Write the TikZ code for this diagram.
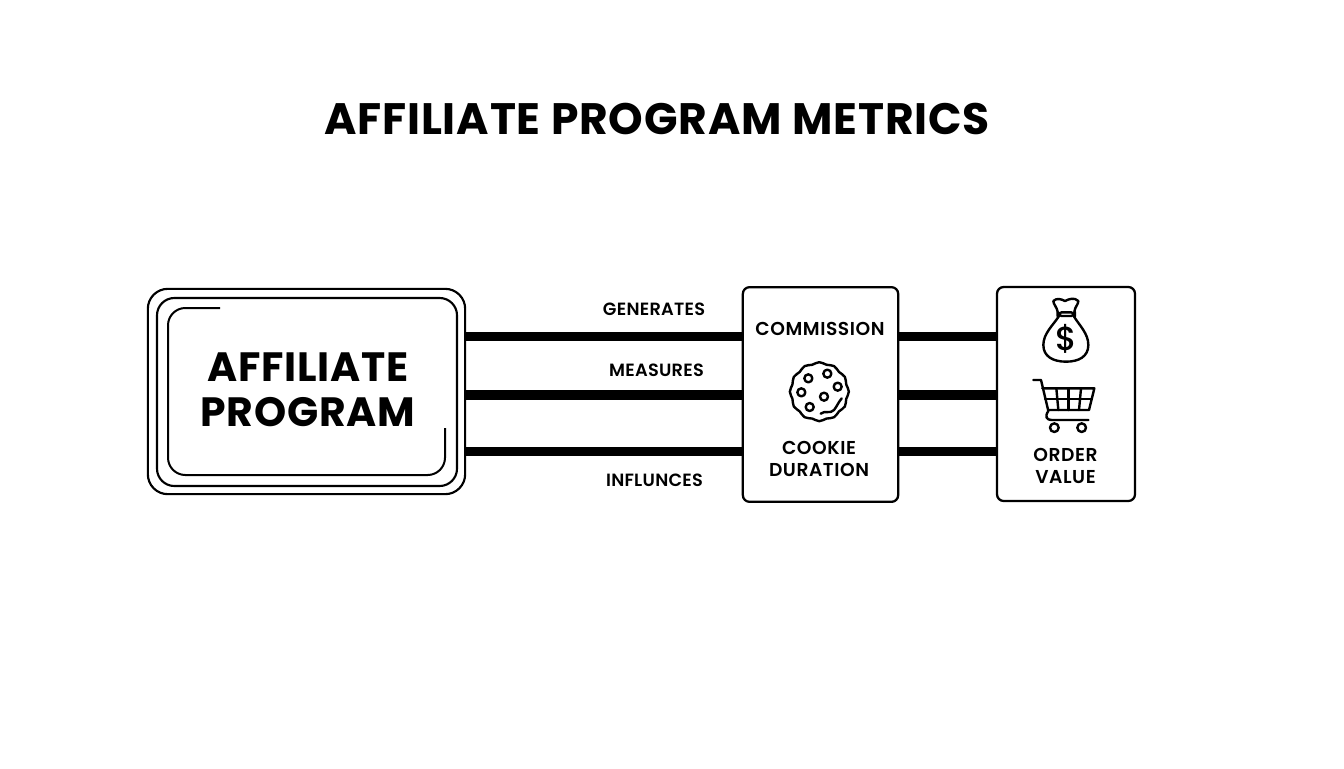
\documentclass[tikz,border=0pt]{standalone}
\usepackage{fontspec}
\setmainfont{Poppins}[UprightFont=* Medium,BoldFont=* Bold]
\newfontfamily\semib{Poppins}[UprightFont=* SemiBold,LetterSpace=3]
\newfontfamily\medsp{Poppins}[UprightFont=* SemiBold,LetterSpace=1.5]
\newfontfamily\boldsp{Poppins}[UprightFont=* Bold,LetterSpace=2]
\tikzset{
  cardbox/.style={draw=black,line width=1.7pt,rounded corners=5pt,fill=white,inner sep=0pt},
  wire/.style={line width=7pt,black,line cap=butt},
  linklabel/.style={font=\medsp\fontsize{13.3}{15}\selectfont,inner sep=0pt,anchor=center},
  cardlabel/.style={font=\semib\fontsize{14}{16.5}\selectfont,align=center,inner sep=0pt},
  icon/.style={line width=1.8pt,line cap=round,line join=round},
}
\begin{document}
\begin{tikzpicture}[x=0.75pt,y=-0.75pt]
\useasboundingbox[fill=white] (0,0) rectangle (1344,768);
\node[font=\boldsp\fontsize{33}{38}\selectfont,inner sep=0pt] (title) at (657,118.5) {AFFILIATE PROGRAM METRICS};
% anchor rows
\coordinate (rowa) at (0,336.5);
\coordinate (rowb) at (0,395);
\coordinate (rowc) at (0,451.5);
% boxes
\node[draw=black,line width=1.6pt,rounded corners=15pt,minimum width=238pt,minimum height=154pt,inner sep=0pt] (prog) at (306.5,391.5) {};
\node[draw=black,line width=1.6pt,rounded corners=13pt,minimum width=225pt,minimum height=141pt,inner sep=0pt] (progin) at (307,392) {};
\node[cardbox,minimum width=116.5pt,minimum height=161pt] (mid) at (820.5,394.5) {};
\node[cardbox,minimum width=103.5pt,minimum height=160.5pt] (right) at (1066,394) {};
% inner partial frame
\coordinate (pa) at (220,308);
\coordinate (pb) at (445,428);
\draw[line width=1.5pt,rounded corners=13pt] (pa) -- (168,308) -- (168,475) -- (445,475) -- (pb);
% wires
\foreach \r in {rowa,rowb,rowc}{
  \draw[wire] (prog.east |- \r) -- (mid.west |- \r);
  \draw[wire] (mid.east |- \r) -- (right.west |- \r);
}
% texts
\node[font=\boldsp\fontsize{30.7}{34}\selectfont,align=center,inner sep=0pt] (progt) at (308,389.5) {AFFILIATE\\PROGRAM};
\node[linklabel] (la) at (654,309) {GENERATES};
\node[linklabel] (lb) at (656.5,370) {MEASURES};
\node[linklabel] (lc) at (654.5,480) {INFLUNCES};
\node[cardlabel] (comm) at (820,328.5) {COMMISSION};
\node[cardlabel] (cook) at (819,458.5) {COOKIE\\DURATION};
\node[cardlabel] (ordv) at (1065.5,466) {ORDER\\VALUE};
% cookie icon
\begin{scope}[shift={(730,275)},x=0.25pt,y=-0.25pt]
  \draw[icon] plot[smooth cycle,samples=48,domain=0:352.5,variable=\t] ({268+(86+2.5*cos(12*\t))*cos(\t)},{350+(86+2.5*cos(12*\t))*sin(\t)});
  \foreach \cx/\cy in {235/310,292/296,323/335,214/352,282/365,239/396}
    \draw[icon] (\cx,\cy) circle (12);
  \draw[icon] (272,416) .. controls (285,405) and (300,418) .. (312,405) .. controls (322,392) and (325,382) .. (335,370);
\end{scope}
% money bag
\begin{scope}[shift={(985,275)},x=0.25pt,y=-0.25pt]
  \draw[icon] (222,123) .. controls (205,150) and (175,175) .. (175,210) .. controls (175,245) and (205,260) .. (243,260) .. controls (281,260) and (310,245) .. (310,210) .. controls (310,175) and (282,150) .. (266,123);
  \draw[icon,rounded corners=3pt] (218,112) rectangle (270,123);
  \draw[icon] (218,110) .. controls (215,95) and (205,88) .. (205,78) .. controls (215,68) and (228,72) .. (240,78) .. controls (252,72) and (268,66) .. (280,78) .. controls (280,88) and (270,95) .. (268,110);
  \node[inner sep=0pt,font=\fontsize{25}{28}\selectfont] (dollar) at (243,192) {\$};
  % cart
  \draw[icon] (145,315) -- (168,315) -- (190,408) .. controls (178,425) and (185,435) .. (200,435) -- (310,435);
  \draw[icon] (172,340) -- (328,340) -- (312,405) -- (190,405);
  \draw[icon] (180,372) -- (320,372);
  \draw[icon] (214,340) -- (220,405);
  \draw[icon] (250,340) -- (250,405);
  \draw[icon] (288,340) -- (282,405);
  \draw[icon] (208,458) circle (13);
  \draw[icon] (290,458) circle (13);
\end{scope}
\end{tikzpicture}
\end{document}
